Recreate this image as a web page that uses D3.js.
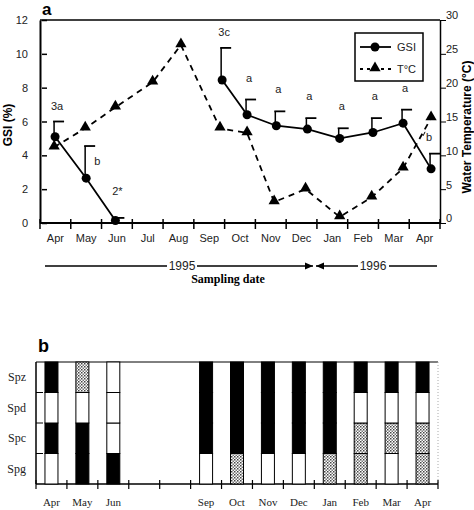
<!DOCTYPE html>
<html>
<head>
<meta charset="utf-8">
<script src="https://cdn.jsdelivr.net/npm/d3@7"></script>
<style>
  body { margin: 0; background: #fff; }
  svg { display: block; }
  .sans { font-family: "Liberation Sans", Arial, sans-serif; }
  .serif { font-family: "Liberation Serif", "Times New Roman", serif; }
</style>
</head>
<body>
<div id="chart"></div>
<script>
// Months on the sampling axis (Apr 1995 .. Apr 1996)
var months = ["Apr", "May", "Jun", "Jul", "Aug", "Sep", "Oct", "Nov", "Dec", "Jan", "Feb", "Mar", "Apr"];

// GSI series (x = month position, value in %, error = +SD)
var gsiMonth = [0.49, 1.50, 2.45, 5.92, 6.73, 7.68, 8.69, 9.74, 10.82, 11.80, 12.71];
var gsiValue = [5.1, 2.65, 0.15, 8.45, 6.4, 5.75, 5.55, 5.0, 5.35, 5.9, 3.2];
var gsiError = [0.9, 1.9, 0.15, 1.9, 0.9, 0.85, 0.65, 0.6, 0.85, 0.8, 0.9];
var gsiLabel = ["3a", "b", "2*", "3c", "a", "a", "a", "a", "a", "a", "b"];

// Water temperature series
var tempMonth = [0.46, 1.47, 2.45, 3.66, 4.58, 5.85, 6.73, 7.61, 8.63, 9.74, 10.78, 11.80, 12.71];
var tempValue = [11.2, 14.0, 17.1, 20.8, 26.3, 14.0, 13.3, 3.1, 5.0, 0.9, 3.8, 8.1, 15.5];

var gsiTicks = [0, 2, 4, 6, 8, 10, 12];
var tempTicks = [0, 5, 10, 15, 20, 25, 30];

// Panel b: gonad stages, state per sampled month (0 = absent, 1 = present, 2 = rare)
var stages = ["Spg", "Spc", "Spd", "Spz"];
var stageMonth = [0, 1, 2, 5, 6, 7, 8, 9, 10, 11, 12];
var spgState = [0, 1, 1, 0, 2, 0, 0, 2, 2, 0, 2];
var spcState = [1, 1, 0, 1, 1, 1, 1, 1, 2, 2, 2];
var spdState = [0, 0, 0, 1, 1, 1, 1, 1, 0, 0, 0];
var spzState = [1, 2, 0, 1, 1, 1, 1, 1, 1, 1, 1];
var stageStates = [spgState, spcState, spdState, spzState];

// Layout
var W = 474, H = 510;
var aLeft = 40, aRight = 440, aTop = 20, aBottom = 223;
var bLeft = 36, bRight = 438, bTop = 362, bBottom = 484;

var svg = d3.select("#chart").append("svg")
  .attr("width", W)
  .attr("height", H);

var defs = svg.append("defs");
var pat = defs.append("pattern")
  .attr("id", "stipple")
  .attr("patternUnits", "userSpaceOnUse")
  .attr("width", 3)
  .attr("height", 3);
pat.append("rect").attr("width", 3).attr("height", 3).attr("fill", "#fff");
pat.append("rect").attr("width", 1.5).attr("height", 1.5).attr("fill", "#444");
pat.append("rect").attr("x", 1.5).attr("y", 1.5).attr("width", 1.5).attr("height", 1.5).attr("fill", "#777");

// ---------- Panel a ----------
var x = d3.scaleLinear().domain([0, months.length]).range([aLeft, aRight]);
var yG = d3.scaleLinear().domain([0, 12]).range([aBottom, aTop]);
var yT = d3.scaleLinear().domain([0, 30]).range([aBottom, aTop]);

var pa = svg.append("g").attr("class", "sans");

pa.append("text")
  .attr("x", 42).attr("y", 15)
  .attr("font-size", 17).attr("font-weight", "bold")
  .text("a");

// top frame line
pa.append("line")
  .attr("x1", aLeft).attr("x2", aRight)
  .attr("y1", aTop).attr("y2", aTop)
  .attr("stroke", "#000").attr("stroke-width", 1.5);

// left axis
var leftAxis = d3.axisLeft(yG).tickValues(gsiTicks).tickSizeInner(-7).tickSizeOuter(0).tickPadding(12);
var gl = pa.append("g").attr("transform", "translate(" + aLeft + ",0)").call(leftAxis);
gl.select(".domain").attr("stroke-width", 2);
gl.selectAll(".tick line").attr("stroke-width", 1.5).attr("x1", 2);
gl.selectAll(".tick text").attr("font-size", 11).attr("font-family", "Liberation Sans, Arial, sans-serif").attr("fill", "#222");

// right axis
var rightAxis = d3.axisRight(yT).tickValues(tempTicks).tickSize(6).tickSizeOuter(0).tickPadding(0);
var gr = pa.append("g").attr("transform", "translate(" + aRight + ",0)").call(rightAxis);
gr.select(".domain").attr("stroke-width", 1.5);
gr.selectAll(".tick line").attr("stroke-width", 1);
gr.selectAll(".tick text").attr("font-size", 11).attr("dy", "-0.1em")
  .attr("font-family", "Liberation Sans, Arial, sans-serif").attr("fill", "#222");

// bottom axis with ticks at month boundaries
var tickPos = d3.range(months.length + 1);
var xa = pa.append("g").attr("transform", "translate(0," + aBottom + ")");
xa.append("line").attr("x1", aLeft).attr("x2", aRight).attr("stroke", "#000").attr("stroke-width", 2);
xa.selectAll(".mt").data(tickPos).enter().append("line")
  .attr("x1", function(d) { return x(d); }).attr("x2", function(d) { return x(d); })
  .attr("y1", -4).attr("y2", 6)
  .attr("stroke", "#000").attr("stroke-width", 1.5);
xa.selectAll(".ml").data(months).enter().append("text")
  .attr("x", function(d, i) { return x(i + 0.5); })
  .attr("y", 19)
  .attr("text-anchor", "middle")
  .attr("font-size", 11).attr("fill", "#222")
  .text(function(d) { return d; });

// axis titles
pa.append("text")
  .attr("transform", "translate(12,125)rotate(-90)")
  .attr("text-anchor", "middle")
  .attr("font-size", 12).attr("font-weight", "bold")
  .text("GSI (%)");
pa.append("text")
  .attr("transform", "translate(471,127)rotate(-90)")
  .attr("text-anchor", "middle")
  .attr("font-size", 12).attr("font-weight", "bold")
  .text("Water Temperature (°C)");

// temperature dashed line
var tempPts = tempMonth.map(function(m, i) { return [m, tempValue[i]]; });
var tempLine = d3.line().x(function(d) { return x(d[0]); }).y(function(d) { return yT(d[1]); });
pa.append("path")
  .attr("d", tempLine(tempPts))
  .attr("fill", "none").attr("stroke", "#000")
  .attr("stroke-width", 1.8).attr("stroke-dasharray", "6,5");
var tri = d3.symbol().type(d3.symbolTriangle).size(55);
pa.selectAll(".tri").data(tempPts).enter().append("path")
  .attr("d", tri)
  .attr("transform", function(d) { return "translate(" + x(d[0]) + "," + (yT(d[1]) - 1) + ")"; })
  .attr("fill", "#000");

// GSI solid line in two pieces (gap Jul-Aug)
var gsiPts = gsiMonth.map(function(m, i) { return [m, gsiValue[i], gsiError[i], gsiLabel[i]]; });
var gsiLine = d3.line().x(function(d) { return x(d[0]); }).y(function(d) { return yG(d[1]); });
[gsiPts.slice(0, 3), gsiPts.slice(3)].forEach(function(seg) {
  pa.append("path")
    .attr("d", gsiLine(seg))
    .attr("fill", "none").attr("stroke", "#000").attr("stroke-width", 1.8);
});

// error bars
var eb = pa.selectAll(".eb").data(gsiPts).enter().append("g");
eb.append("line")
  .attr("x1", function(d) { return x(d[0]) - 1; }).attr("x2", function(d) { return x(d[0]) - 1; })
  .attr("y1", function(d) { return yG(d[1]); }).attr("y2", function(d) { return yG(d[1] + d[2]); })
  .attr("stroke", "#000").attr("stroke-width", 1.5);
eb.append("line")
  .attr("x1", function(d) { return x(d[0]) - 2; }).attr("x2", function(d) { return x(d[0]) + 9; })
  .attr("y1", function(d) { return yG(d[1] + d[2]); }).attr("y2", function(d) { return yG(d[1] + d[2]); })
  .attr("stroke", "#000").attr("stroke-width", 1.8);

pa.selectAll(".dot").data(gsiPts).enter().append("circle")
  .attr("cx", function(d) { return x(d[0]); })
  .attr("cy", function(d) { return yG(d[1]); })
  .attr("r", 4.5).attr("fill", "#000");

// significance letters
pa.selectAll(".lab").data(gsiPts).enter().append("text")
  .attr("x", function(d, i) {
    if (i === 1) return x(d[0]) + 8;
    if (i === gsiPts.length - 1) return x(d[0]) - 2;
    return x(d[0]) + 2;
  })
  .attr("y", function(d, i) {
    if (i === 1) return yG(d[1] + d[2] / 2) + 3;
    if (i === 2) return yG(d[1]) - 25;
    if (i === gsiPts.length - 1) return yG(d[1]) - 28;
    var off = d[3] === "a" ? 18 : 12;
    return yG(d[1] + d[2]) - off;
  })
  .attr("text-anchor", function(d, i) { return i === 1 ? "start" : "middle"; })
  .attr("font-size", 11).attr("fill", "#222")
  .text(function(d) { return d[3]; });
// little tick before the last "b"
var lastP = gsiPts[gsiPts.length - 1];
pa.append("line")
  .attr("x1", x(lastP[0]) - 8).attr("x2", x(lastP[0]) - 6)
  .attr("y1", yG(lastP[1]) - 33).attr("y2", yG(lastP[1]) - 37)
  .attr("stroke", "#000").attr("stroke-width", 1);

// legend
var lg = pa.append("g").attr("transform", "translate(355,33)");
lg.append("rect").attr("width", 68).attr("height", 48)
  .attr("fill", "#fff").attr("stroke", "#000").attr("stroke-width", 1.5);
lg.append("line").attr("x1", 5).attr("x2", 36).attr("y1", 14).attr("y2", 14)
  .attr("stroke", "#000").attr("stroke-width", 1.8);
lg.append("circle").attr("cx", 20).attr("cy", 14).attr("r", 4.5).attr("fill", "#000");
lg.append("text").attr("x", 42).attr("y", 18).attr("font-size", 11).attr("fill", "#222").text("GSI");
lg.append("line").attr("x1", 5).attr("x2", 38).attr("y1", 36).attr("y2", 36)
  .attr("stroke", "#000").attr("stroke-width", 1.8).attr("stroke-dasharray", "3,4");
lg.append("path").attr("d", tri).attr("transform", "translate(20,35)").attr("fill", "#000");
lg.append("text").attr("x", 42).attr("y", 40).attr("font-size", 11).attr("fill", "#222").text("T°C");

// year span arrows
var yr = pa.append("g");
var yy = 266;
yr.append("line").attr("x1", 45).attr("x2", 167).attr("y1", yy).attr("y2", yy).attr("stroke", "#000").attr("stroke-width", 1.3);
yr.append("text").attr("x", 182).attr("y", yy + 4).attr("text-anchor", "middle").attr("font-size", 12).attr("fill", "#222").text("1995");
yr.append("line").attr("x1", 197).attr("x2", 313).attr("y1", yy).attr("y2", yy).attr("stroke", "#000").attr("stroke-width", 1.3);
yr.append("path").attr("d", "M313," + yy + "l-8,-3.5l0,7z").attr("fill", "#000");
yr.append("path").attr("d", "M316," + yy + "l8,-3.5l0,7z").attr("fill", "#000");
yr.append("line").attr("x1", 316).attr("x2", 358).attr("y1", yy).attr("y2", yy).attr("stroke", "#000").attr("stroke-width", 1.3);
yr.append("text").attr("x", 373).attr("y", yy + 4).attr("text-anchor", "middle").attr("font-size", 12).attr("fill", "#222").text("1996");
yr.append("line").attr("x1", 389).attr("x2", 437).attr("y1", yy).attr("y2", yy).attr("stroke", "#000").attr("stroke-width", 1.3);
yr.append("text").attr("class", "serif").attr("x", 228).attr("y", 283)
  .attr("text-anchor", "middle").attr("font-size", 12).attr("font-weight", "bold")
  .text("Sampling date");

// ---------- Panel b ----------
var xb = d3.scaleLinear().domain([0, months.length]).range([bLeft, bRight]);
var yb = d3.scaleBand().domain(stages).range([bBottom, bTop]);
var pb = svg.append("g").attr("class", "serif");

pb.append("text")
  .attr("class", "sans")
  .attr("x", 38).attr("y", 352)
  .attr("font-size", 18).attr("font-weight", "bold")
  .text("b");

pb.append("line").attr("x1", bLeft).attr("x2", bRight).attr("y1", bTop).attr("y2", bTop)
  .attr("stroke", "#000").attr("stroke-width", 1);
pb.append("line").attr("x1", bLeft).attr("x2", bLeft).attr("y1", bTop).attr("y2", bBottom)
  .attr("stroke", "#000").attr("stroke-width", 1.5);
pb.append("line").attr("x1", bRight).attr("x2", bRight).attr("y1", bTop).attr("y2", bBottom)
  .attr("stroke", "#aaa").attr("stroke-width", 1).attr("stroke-dasharray", "1,2");
pb.append("line").attr("x1", bLeft).attr("x2", bRight).attr("y1", bBottom).attr("y2", bBottom)
  .attr("stroke", "#000").attr("stroke-width", 1.5);

// y ticks at stage boundaries
pb.selectAll(".yt").data(stages.slice(1)).enter().append("line")
  .attr("x1", bLeft).attr("x2", bLeft + 7)
  .attr("y1", function(d) { return yb(d) + yb.bandwidth(); })
  .attr("y2", function(d) { return yb(d) + yb.bandwidth(); })
  .attr("stroke", "#000").attr("stroke-width", 1);
pb.selectAll(".yl").data(stages).enter().append("text")
  .attr("x", 26)
  .attr("y", function(d) { return yb(d) + yb.bandwidth() / 2 + 4; })
  .attr("text-anchor", "end")
  .attr("font-size", 12).attr("fill", "#222")
  .text(function(d) { return d; });

// x ticks
pb.selectAll(".xt").data(tickPos).enter().append("line")
  .attr("x1", function(d) { return xb(d); }).attr("x2", function(d) { return xb(d); })
  .attr("y1", bBottom - 4).attr("y2", bBottom + 5)
  .attr("stroke", "#000").attr("stroke-width", 1.2);

var barW = 13;
var cells = [];
stageMonth.forEach(function(m, j) {
  stages.forEach(function(s, k) {
    cells.push({ m: m, s: s, v: stageStates[k][j] });
  });
});
pb.selectAll(".cell").data(cells).enter().append("rect")
  .attr("x", function(d) { return xb(d.m + 0.5) - barW / 2; })
  .attr("y", function(d) { return yb(d.s); })
  .attr("width", barW)
  .attr("height", yb.bandwidth())
  .attr("fill", function(d) { return d.v === 1 ? "#000" : d.v === 2 ? "url(#stipple)" : "#fff"; })
  .attr("stroke", "#000").attr("stroke-width", 1);

pb.selectAll(".bl").data(stageMonth).enter().append("text")
  .attr("x", function(d) { return xb(d + 0.5); })
  .attr("y", 506)
  .attr("text-anchor", "middle")
  .attr("font-size", 11).attr("fill", "#222")
  .text(function(d) { return months[d]; });
</script>
</body>
</html>
